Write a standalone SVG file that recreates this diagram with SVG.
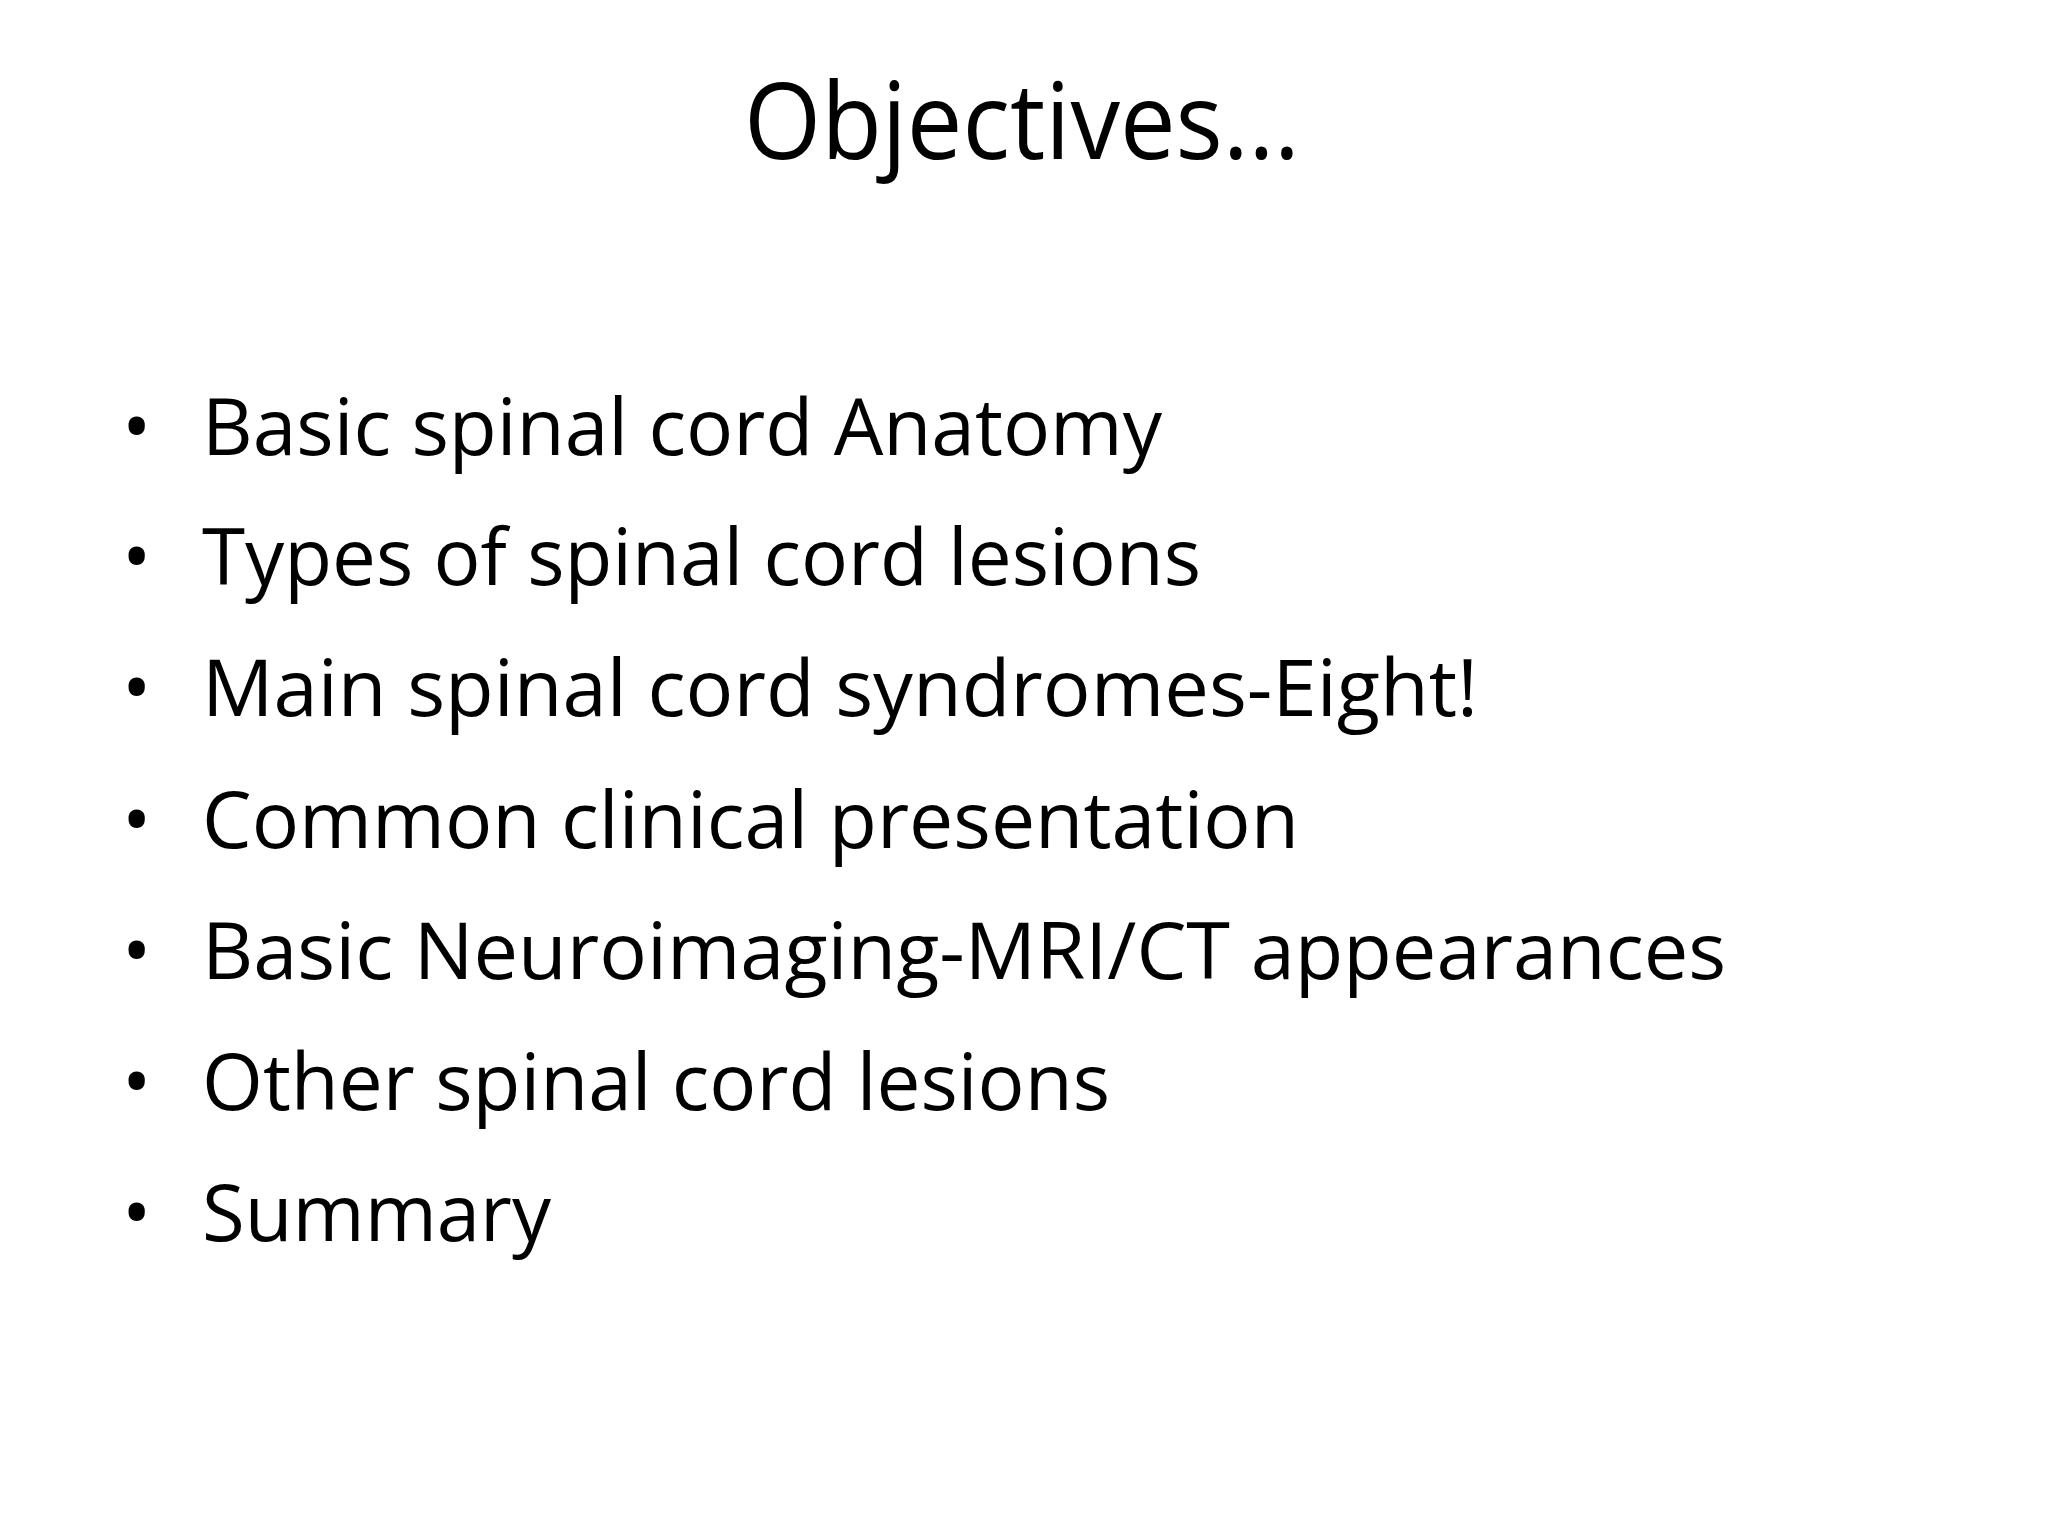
<svg xmlns="http://www.w3.org/2000/svg" width="2048" height="1536" viewBox="0 0 2048 1536">
<style>
.t{font-family:"Open Sans","Noto Sans",sans-serif;fill:#000}
.b{font-size:78px}
</style>
<rect width="2048" height="1536" fill="#fff"/>
<g id="title"><text class="t" x="744" y="159" font-size="106" textLength="556" lengthAdjust="spacingAndGlyphs">Objectives…</text></g>
<g id="bullets">
<g id="item1"><text class="t b" x="122" y="455">•</text><text class="t b" x="202" y="455" textLength="960" lengthAdjust="spacingAndGlyphs">Basic spinal cord Anatomy</text></g>
<g id="item2"><text class="t b" x="122" y="585">•</text><text class="t b" x="202" y="585" textLength="999" lengthAdjust="spacingAndGlyphs">Types of spinal cord lesions</text></g>
<g id="item3"><text class="t b" x="122" y="716">•</text><text class="t b" x="202" y="716" textLength="1276" lengthAdjust="spacingAndGlyphs">Main spinal cord syndromes-Eight!</text></g>
<g id="item4"><text class="t b" x="122" y="848">•</text><text class="t b" x="202" y="848" textLength="1097" lengthAdjust="spacingAndGlyphs">Common clinical presentation</text></g>
<g id="item5"><text class="t b" x="122" y="979">•</text><text class="t b" x="202" y="979" textLength="1524" lengthAdjust="spacingAndGlyphs">Basic Neuroimaging-MRI/CT appearances</text></g>
<g id="item6"><text class="t b" x="122" y="1110">•</text><text class="t b" x="202" y="1110" textLength="908" lengthAdjust="spacingAndGlyphs">Other spinal cord lesions</text></g>
<g id="item7"><text class="t b" x="122" y="1241">•</text><text class="t b" x="202" y="1241" textLength="349" lengthAdjust="spacingAndGlyphs">Summary</text></g>
</g>
<g id="connectors"/>
</svg>
